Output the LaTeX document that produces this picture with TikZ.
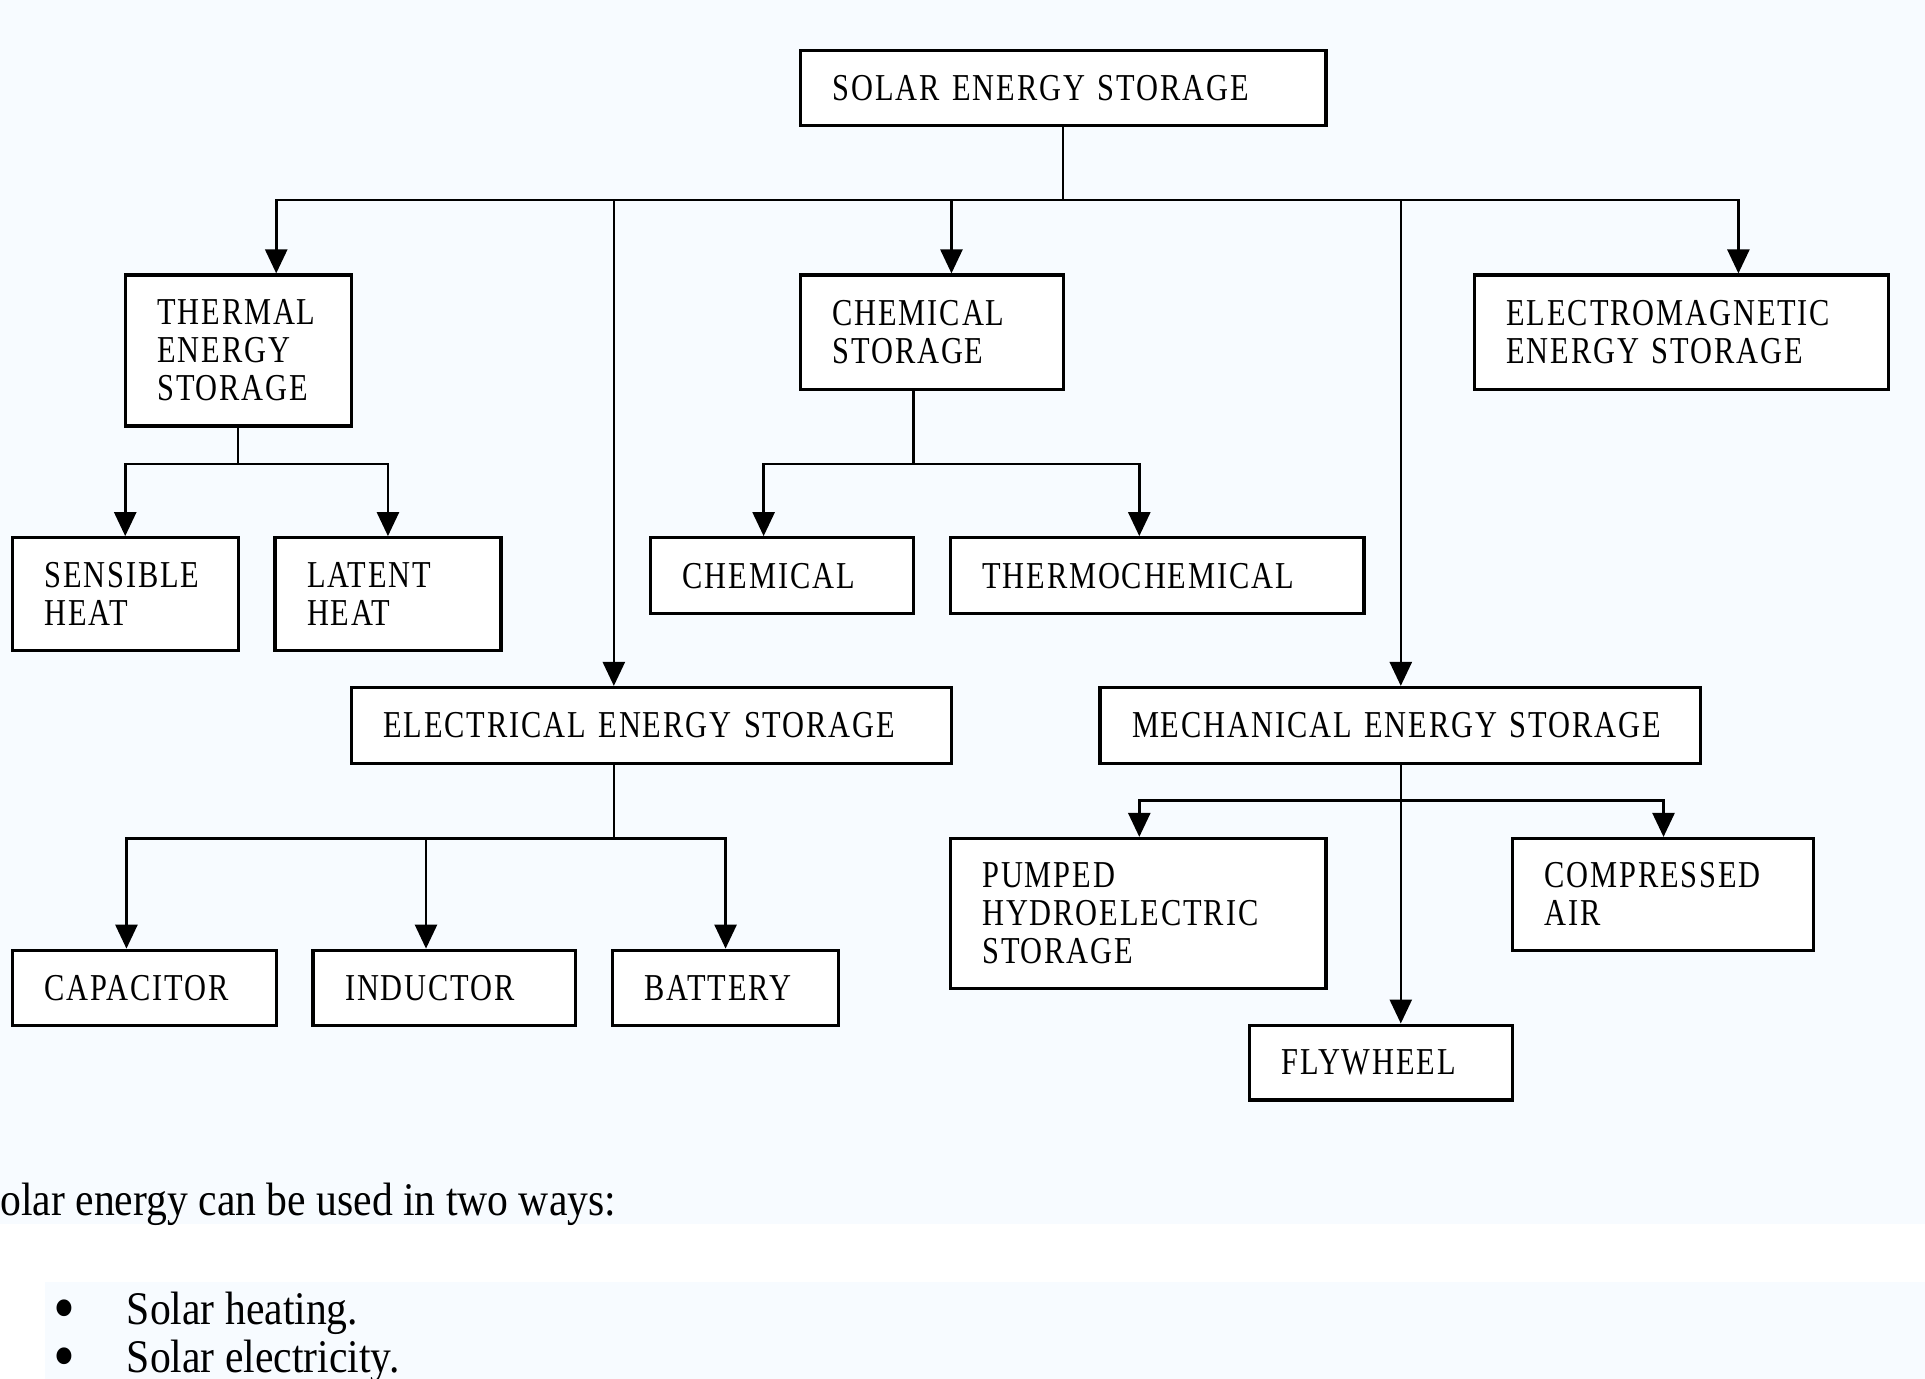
\documentclass[tikz,border=0pt]{standalone}
\usepackage{fontspec}
\usepackage{graphicx}
\usetikzlibrary{arrows.meta}
\newfontfamily\diagfont{Liberation Serif}[FakeStretch=0.8,LetterSpace=5]
\newfontfamily\bodyfont{Liberation Serif}[FakeStretch=0.89]
\definecolor{pagebg}{RGB}{247,251,255}
\newcommand\mybox[6]{%
  \pgfmathsetmacro\bw{(#4-#2)*0.61385}%
  \pgfmathsetmacro\bh{(#5-#3)*0.61385}%
  \pgfmathsetmacro\tw{\bw-32}%
  \node[box, minimum width=\bw pt, minimum height=\bh pt, text width=\tw pt] (#1) at ({(#2+#4)/2},{(#3+#5)/2}) {#6};}
\newcommand\bigbul{\smash{\raisebox{-3.5pt}{\scalebox{1.5}{\textbullet}}}}
\begin{document}
\begin{tikzpicture}[x=0.61385pt,y=-0.61385pt,
  box/.style={draw, line width=1.6pt, fill=white, inner xsep=16pt, inner ysep=0pt,
    align=left, font=\diagfont\fontsize{19}{19}\selectfont},
  ln/.style={line width=1.3pt},
  arr/.style={line width=1.3pt, -{Triangle[length=12pt,width=11pt]}},
  body/.style={inner sep=0pt, font=\bodyfont\fontsize{23.4}{23.4}\selectfont}]
\useasboundingbox (0,0) rectangle (1568,1123);
% backgrounds
\fill[white] (0,0) rectangle (1568,1123);
\fill[pagebg] (0,0) rectangle (1568,997);
\fill[pagebg] (37,1044) rectangle (1568,1123);

% boxes
\mybox{solar}{652}{41}{1080}{102}{SOLAR ENERGY STORAGE}
\mybox{thermal}{102}{224}{286}{347}{THERMAL\\ENERGY\\STORAGE}
\mybox{sensible}{10}{438}{194}{530}{SENSIBLE\\HEAT}
\mybox{latent}{224}{438}{408}{530}{LATENT\\HEAT}
\mybox{chemstor}{652}{224}{866}{317}{CHEMICAL\\STORAGE}
\mybox{chem}{530}{438}{744}{500}{CHEMICAL}
\mybox{thermochem}{774}{438}{1111}{500}{THERMOCHEMICAL}
\mybox{emag}{1201}{224}{1538}{317}{ELECTROMAGNETIC\\ENERGY STORAGE}
\mybox{elec}{286}{560}{775}{622}{ELECTRICAL ENERGY STORAGE}
\mybox{cap}{10}{774}{225}{835}{CAPACITOR}
\mybox{ind}{255}{774}{469}{835}{INDUCTOR}
\mybox{bat}{499}{774}{683}{835}{BATTERY}
\mybox{mech}{896}{560}{1385}{622}{MECHANICAL ENERGY STORAGE}
\mybox{pumped}{774}{683}{1080}{805}{PUMPED\\HYDROELECTRIC\\STORAGE}
\mybox{comp}{1232}{683}{1477}{774}{COMPRESSED\\AIR}
\mybox{fly}{1018}{835}{1232}{896}{FLYWHEEL}

% x-guides
\coordinate (x225) at (225,0);
\coordinate (x500) at (500,0);
\coordinate (x775) at (775,0);
\coordinate (x1141) at (1141,0);
\coordinate (x1416) at (1416,0);
\coordinate (x744) at (744,0);
\coordinate (x622) at (622,0);
\coordinate (x928) at (928,0);
\coordinate (x103) at (103,0);
\coordinate (x347) at (347,0);
\coordinate (x591) at (591,0);
\coordinate (x1355) at (1355,0);

% top level
\coordinate (b1) at (866,163);
\draw[ln] (solar.south) -- (b1);
\draw[arr] (b1) -| (thermal.north -| x225);
\draw[arr] (b1) -| (elec.north -| x500);
\draw[arr] (b1) -| (chemstor.north -| x775);
\draw[arr] (b1) -| (mech.north -| x1141);
\draw[arr] (b1) -| (emag.north -| x1416);

% thermal
\coordinate (tb) at (194,378);
\draw[ln] (thermal.south) -- (tb);
\draw[arr] (tb) -| (sensible.north);
\draw[arr] (tb) -| (latent.north);

% chemical
\coordinate (cb) at (744,378);
\draw[ln] (chemstor.south -| x744) -- (cb);
\draw[arr] (cb) -| (chem.north -| x622);
\draw[arr] (cb) -| (thermochem.north -| x928);

% electrical
\coordinate (eb) at (500,683);
\draw[ln] (elec.south -| x500) -- (eb);
\draw[arr] (eb) -| (cap.north -| x103);
\draw[arr] (eb) -| (ind.north -| x347);
\draw[arr] (eb) -| (bat.north -| x591);

% mechanical
\coordinate (mb) at (1141,652);
\draw[arr] (mech.south -| x1141) -- (fly.north -| x1141);
\draw[arr] (mb) -| (pumped.north -| x928);
\draw[arr] (mb) -| (comp.north -| x1355);

% bottom text
\node[body, anchor=base west] (intro) at (0,990) {olar energy can be used in two ways:};
\node[body, anchor=base west] (bul1) at (43,1079) {\bigbul};
\node[body, anchor=base west] (t1) at (103,1079) {Solar heating.};
\node[body, anchor=base west] (bul2) at (43,1118) {\bigbul};
\node[body, anchor=base west] (t2) at (103,1118) {Solar electricity.};
\end{tikzpicture}
\end{document}
